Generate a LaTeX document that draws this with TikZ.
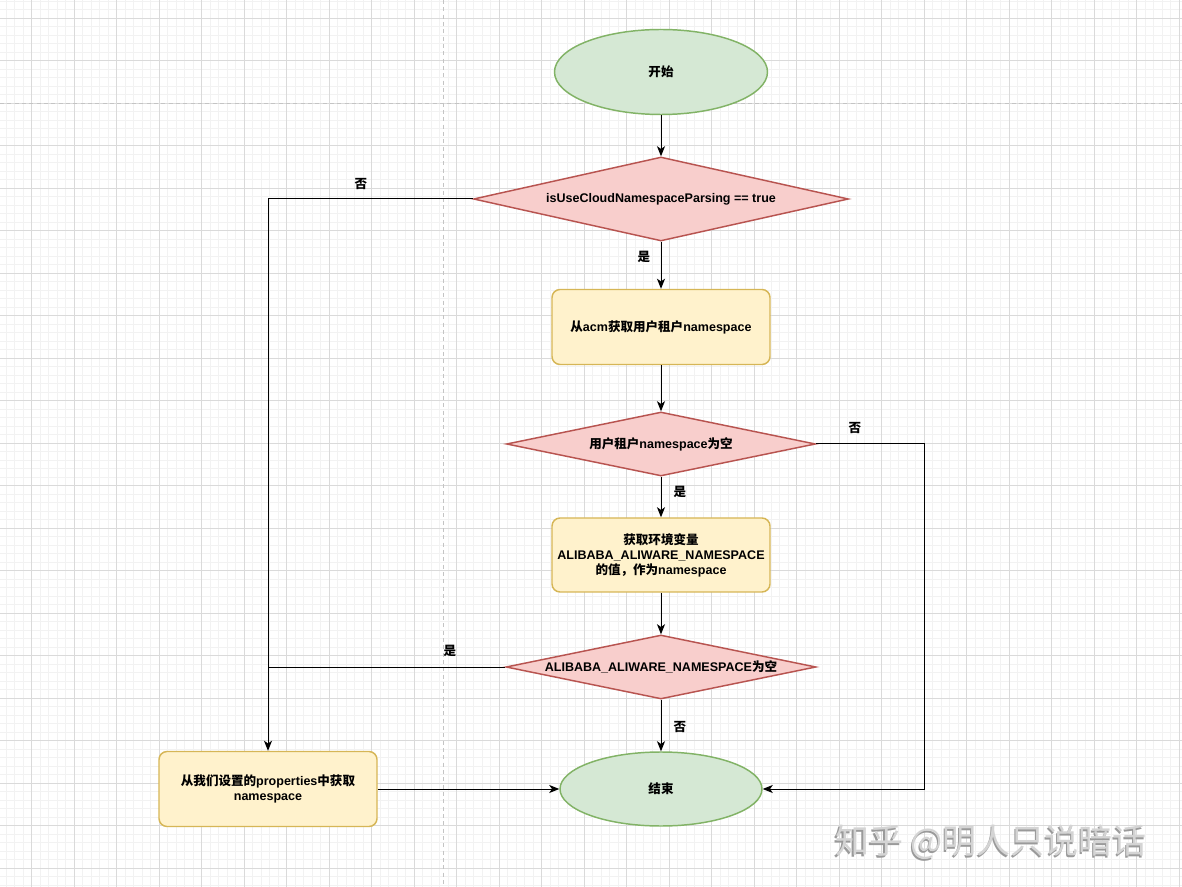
\documentclass[tikz,border=0pt]{standalone}
\usepackage{fontspec}
\setmainfont{Liberation Sans}
\newfontfamily\cjk{Noto Sans CJK SC}
\usetikzlibrary{shapes.geometric,arrows.meta}
\newcommand\zh[1]{{\cjk #1}}
\definecolor{gfill}{HTML}{D5E8D4}
\definecolor{gline}{HTML}{82B366}
\definecolor{rfill}{HTML}{F8CECC}
\definecolor{rline}{HTML}{B85450}
\definecolor{yfill}{HTML}{FFF2CC}
\definecolor{yline}{HTML}{D6B656}
\definecolor{gridmajor}{HTML}{DADADA}
\definecolor{gridminor}{HTML}{F2F2F2}
\definecolor{pageline}{HTML}{C4C4C4}
\definecolor{wmlight}{HTML}{D4D4D4}
\definecolor{wmdark}{HTML}{9A9A9A}
\tikzset{
  txt/.style={font=\fontsize{9.4}{11.25}\selectfont\bfseries, text=black, align=center},
  terminal/.style={txt, ellipse, draw=gline, fill=gfill, line width=1.1pt, inner sep=0pt},
  decision/.style={txt, diamond, draw=rline, fill=rfill, line width=1.1pt, inner sep=0pt},
  process/.style={txt, rectangle, rounded corners=6pt, draw=yline, fill=yfill, line width=1.1pt, inner sep=0pt},
  lbl/.style={txt, inner sep=1pt},
  conn/.style={draw=black, line width=0.75pt},
  arr/.style={conn, -{Stealth[length=7.5pt,width=6pt,inset=2pt]}},
  gminor/.style={draw=gridminor, line width=0.6pt},
  gmajor/.style={draw=gridmajor, line width=0.75pt},
  pagebreak/.style={draw=pageline, line width=0.75pt, dash pattern=on 3pt off 2.5pt},
  wm/.style={font=\cjk\fontsize{25.5}{30}\selectfont, inner sep=0pt}
}
\begin{document}
\begin{tikzpicture}[x=0.75pt,y=-0.75pt]
\useasboundingbox (0,0) rectangle (1182,887);
\fill[white] (0,0) rectangle (1182,887);
% grid
\foreach \i in {0,...,138} {\draw[gminor] ({6.2+8.5*\i},0) -- ++(0,887);}
\foreach \i in {0,...,104} {\draw[gminor] (0,{1.3+8.5*\i}) -- ++(1182,0);}
\foreach \i in {0,...,27} {\draw[gmajor] ({31.7+42.5*\i},0) -- ++(0,887);}
\foreach \i in {0,...,20} {\draw[gmajor] (0,{18.3+42.5*\i}) -- ++(1182,0);}
\draw[pagebreak] (443,0) -- (443,887);
\draw[pagebreak] (0,104) -- (1182,104);

% nodes
\node[terminal, minimum width=159.75pt, minimum height=63.75pt] (start) at (661,72) {\zh{开始}};
\node[decision, aspect=4.46, minimum width=281.25pt, minimum height=63pt] (d1) at (661,199) {isUseCloudNamespaceParsing == true};
\node[process, minimum width=163.5pt, minimum height=56.25pt] (b1) at (661,327) {\zh{从}acm\zh{获取用户租户}namespace};
\node[decision, aspect=4.8, minimum width=231.75pt, minimum height=48pt] (d2) at (661,444) {\zh{用户租户}namespace\zh{为空}};
\node[process, minimum width=163.5pt, minimum height=55.5pt] (b2) at (661,555) {\zh{获取环境变量}\\ALIBABA\_ALIWARE\_NAMESPACE\\\zh{的值，作为}namespace};
\node[decision, aspect=4.84, minimum width=232.5pt, minimum height=48pt] (d3) at (661,667) {ALIBABA\_ALIWARE\_NAMESPACE\zh{为空}};
\node[terminal, minimum width=151.5pt, minimum height=55.5pt] (end) at (661,789) {\zh{结束}};
\node[process, minimum width=163.5pt, minimum height=56.25pt] (b3) at (268,789) {\zh{从我们设置的}properties\zh{中获取}\\namespace};

% connectors
\coordinate (c1) at (924,444);
\draw[arr] (start) -- (d1);
\draw[arr] (d1) -- (b1);
\draw[arr] (b1) -- (d2);
\draw[arr] (d2) -- (b2);
\draw[arr] (b2) -- (d3);
\draw[arr] (d3) -- (end);
\draw[arr] (d1.west) -| (b3.north);
\draw[conn] (d3.west) -- (d3.west -| b3.north);
\draw[arr] (d2.east) -- (c1) |- (end.east);
\draw[arr] (b3.east) -- (end.west);

% labels
\node[lbl] (l1) at (361,184) {\zh{否}};
\node[lbl] (l2) at (644,257) {\zh{是}};
\node[lbl] (l3) at (855,428) {\zh{否}};
\node[lbl] (l4) at (680,492) {\zh{是}};
\node[lbl] (l5) at (450,651) {\zh{是}};
\node[lbl] (l6) at (680,727) {\zh{否}};

% watermark
\node[wm, text=wmdark] (wms) at (989.5,844) {知乎 @明人只说暗话};
\node[wm, text=wmlight] (wm) at (991,842.5) {知乎 @明人只说暗话};
\end{tikzpicture}
\end{document}
